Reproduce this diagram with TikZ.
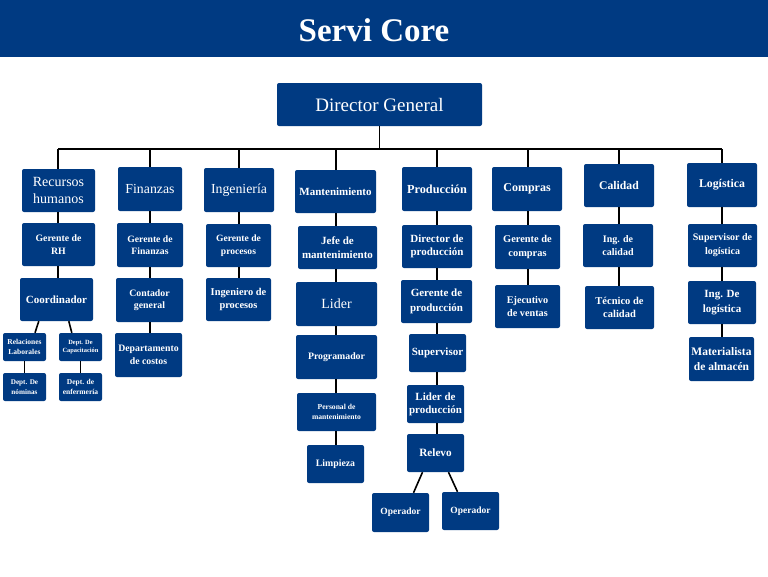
\documentclass[tikz,border=0pt]{standalone}
\usepackage{fontspec}
\setmainfont{Liberation Serif}
\definecolor{navy}{RGB}{0,58,130}
\tikzset{
  box/.style={fill=navy, rounded corners=2pt, text=white, align=center, inner sep=0pt},
  conn/.style={line width=1.6pt, black},
}
\newcommand\bx[8]{\node[box, font=\fontsize{#6}{#7}\selectfont\bfseries,
  minimum width={(#4-#2)*1pt}, minimum height={(#5-#3)*1pt}]
  (#1) at ({(#2+#4)/2},{(#3+#5)/2}) {#8};}
\newcommand\bxr[8]{\node[box, font=\fontsize{#6}{#7}\selectfont,
  minimum width={(#4-#2)*1pt}, minimum height={(#5-#3)*1pt}]
  (#1) at ({(#2+#4)/2},{(#3+#5)/2}) {#8};}
\begin{document}
\begin{tikzpicture}[x=1pt,y=-1pt]
\useasboundingbox[fill=white] (0,0) rectangle (768,576);
\fill[navy] (0,0) rectangle (768,57);
\node[text=white, font=\fontsize{33}{36}\selectfont\bfseries] (title) at (374,30) {Servi Core};

% column x coordinates
\coordinate (bus) at (0,149);
\coordinate (c1) at (58,0);
\coordinate (c2) at (150,0);
\coordinate (c3) at (239,0);
\coordinate (c4) at (336,0);
\coordinate (c5) at (437,0);
\coordinate (c6) at (528,0);
\coordinate (c7) at (619,0);
\coordinate (c8) at (722,0);

\bxr{dg}{277}{83}{482}{126}{19}{21}{Director General}

\bxr{rh}{22}{169}{95}{212}{14}{17}{Recursos\\humanos}
\bxr{fin}{118}{167}{182}{211}{13.8}{15}{Finanzas}
\bxr{ing}{204}{168}{274}{212}{13.8}{15}{Ingeniería}
\bx{man}{295}{170}{376}{213}{11}{12}{Mantenimiento}
\bx{pro}{402}{167}{472}{211}{12.3}{13}{Producción}
\bx{com}{492}{167}{562}{211}{12}{13}{Compras}
\bx{cal}{584}{164}{654}{207}{11.7}{13}{Calidad}
\bx{log}{687}{163}{757}{207}{11.8}{13}{Logística}

\bx{grh}{22}{223}{95}{266}{9.8}{13}{Gerente de\\RH}
\bx{coo}{20}{278}{93}{321}{11}{13}{Coordinador}
\bx{rel}{3}{333}{46}{361}{7.5}{9.5}{Relaciones\\Laborales}
\bx{cap}{59}{333}{102}{361}{6.4}{8.5}{Dept. De\\Capacitación}
\bx{nom}{3}{373}{46}{401}{7.2}{10}{Dept. De\\nóminas}
\bx{enf}{59}{373}{102}{401}{7.5}{9.5}{Dept. de\\enfermería}

\bx{gfin}{117}{223}{183}{267}{9.7}{12.5}{Gerente de\\Finanzas}
\bx{cont}{116}{278}{183}{322}{9.8}{12.5}{Contador\\general}
\bx{dcos}{115}{333}{182}{377}{9.8}{12.5}{Departamento\\de costos}

\bx{gproc}{206}{224}{271}{267}{9.6}{12.5}{Gerente de\\procesos}
\bx{iproc}{206}{278}{271}{321}{10.4}{13}{Ingeniero de\\procesos}

\bx{jefe}{298}{226}{377}{269}{11}{14}{Jefe de\\mantenimiento}
\bxr{lid}{296}{282}{377}{326}{14}{15}{Lider}
\bx{prog}{296}{335}{377}{379}{9.8}{12}{Programador}
\bx{pers}{297}{393}{376}{431}{7.6}{10.5}{Personal de\\mantenimiento}
\bx{limp}{307}{445}{364}{483}{9.8}{11}{Limpieza}

\bx{dprod}{402}{225}{472}{268}{11}{13.5}{Director de\\producción}
\bx{gprod}{401}{280}{472}{323}{11}{14.5}{Gerente de\\producción}
\bx{sup}{409}{334}{466}{372}{11}{12}{Supervisor}
\bx{lprod}{407}{385}{464}{423}{11}{13}{Lider de\\producción}
\bx{relevo}{407}{434}{464}{472}{11.2}{12}{Relevo}
\bx{op1}{372}{493}{429}{532}{9.5}{11}{Operador}
\bx{op2}{442}{492}{499}{530}{9.5}{11}{Operador}

\bx{gcom}{495}{225}{560}{269}{10.4}{13.5}{Gerente de\\compras}
\bx{ejec}{495}{285}{560}{328}{10.2}{13.5}{Ejecutivo\\de ventas}

\bx{ical}{583}{224}{653}{267}{10}{13.5}{Ing. de\\calidad}
\bx{tcal}{585}{286}{654}{329}{10.5}{13.5}{Técnico de\\calidad}

\bx{slog}{688}{224}{757}{267}{10}{14}{Supervisor de\\logística}
\bx{ilog}{688}{281}{756}{324}{11}{14.5}{Ing. De\\logística}
\bx{mat}{689}{337}{754}{381}{11.5}{14.5}{Materialista\\de almacén}

% bus
\draw[line width=1.2pt] (dg.south) -- (dg.south |- bus);
\draw[conn] (c1 |- bus) -- (c8 |- bus);
\foreach \c/\n in {c1/rh,c2/fin,c3/ing,c4/man,c5/pro,c6/com,c7/cal,c8/log}
  \draw[conn] (\c |- bus) -- (\c |- \n.north);

% column connectors
\foreach \c/\a/\b in {c1/rh/grh, c1/grh/coo,
  c2/fin/gfin, c2/gfin/cont, c2/cont/dcos,
  c3/ing/gproc, c3/gproc/iproc,
  c4/man/jefe, c4/jefe/lid, c4/lid/prog, c4/prog/pers, c4/pers/limp,
  c5/pro/dprod, c5/dprod/gprod, c5/gprod/sup, c5/sup/lprod, c5/lprod/relevo,
  c6/com/gcom, c6/gcom/ejec,
  c7/cal/ical, c7/ical/tcal,
  c8/log/slog, c8/slog/ilog, c8/ilog/mat}
  \draw[conn] (\c |- \a.south) -- (\c |- \b.north);

\draw[conn] ([xshift=19pt]coo.south west) -- ([xshift=10.5pt]rel.north);
\draw[conn] ([xshift=49pt]coo.south west) -- ([xshift=13pt]cap.north west);
\draw[conn] (rel.south) -- (rel.south |- nom.north);
\draw[conn] (cap.south) -- (cap.south |- enf.north);
\draw[conn] ([xshift=-13pt]relevo.south) -- ([xshift=13pt]op1.north);
\draw[conn] ([xshift=13pt]relevo.south) -- ([xshift=-13pt]op2.north);
\end{tikzpicture}
\end{document}
